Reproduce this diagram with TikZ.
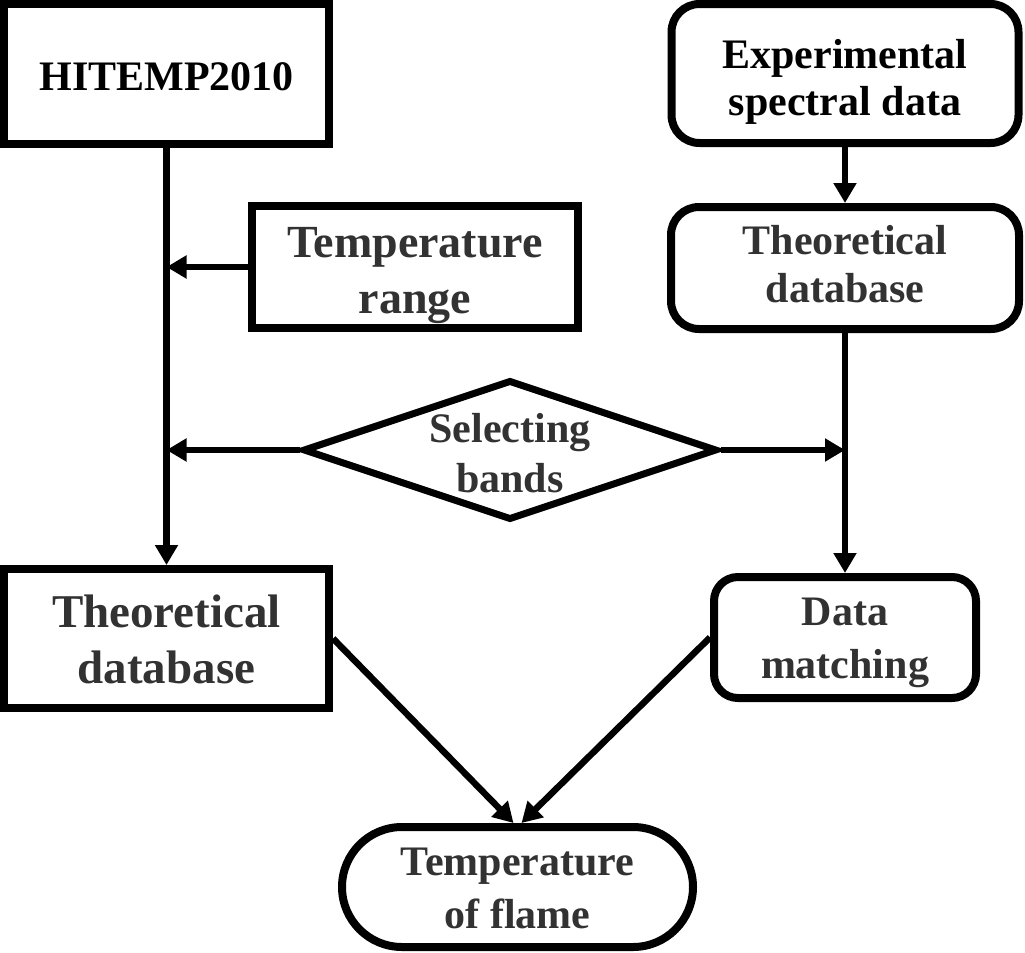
\documentclass[tikz,border=0pt]{standalone}
\usepackage{fontspec}
\setmainfont{Liberation Serif}
\usetikzlibrary{arrows.meta,shapes.geometric,shapes.misc}
\definecolor{txtgray}{RGB}{50,50,50}
% #1 = baseline of last line below centre (bp), #2 = font size, #3 = line distance, #4 = lines
\newcommand{\mtext}[4]{\fontsize{#2bp}{#3bp}\selectfont\raisebox{-#1bp}[0pt][0pt]{\begin{tabular}[b]{@{}c@{}}#4\end{tabular}}}
\tikzset{
  box/.style={draw, line width=8bp, inner sep=0pt, outer sep=4bp, font=\bfseries, text=txtgray},
  rbox/.style={box, rounded corners=28bp},
  arr/.style={line width=6.5bp, -{Triangle[length=20bp,width=22bp]}}
}
\begin{document}
\begin{tikzpicture}[x=1bp,y=-1bp]
\useasboundingbox[fill=white] (0,0) rectangle (1025,953);
% nodes
\node[box, text=black, minimum width=325bp, minimum height=140bp] (hit) at (166.5,74) {\mtext{16}{42}{50}{HITEMP2010}};
\node[box, minimum width=326bp, minimum height=122bp] (tr) at (415,267) {\mtext{46}{46}{56}{Temperature\\range}};
\node[rbox, text=black, minimum width=347bp, minimum height=139bp] (exp) at (845,73.5) {\mtext{42}{42}{47}{Experimental\\spectral data}};
\node[rbox, minimum width=348bp, minimum height=122bp] (thr) at (845,268) {\mtext{34}{42}{48}{Theoretical\\database}};
\node[draw, diamond, aspect=3, line width=7bp, inner sep=0pt, outer sep=3.5bp, minimum width=414bp, minimum height=140bp, font=\bfseries, text=txtgray] (sel) at (510,450) {\mtext{42}{42}{50}{Selecting\\bands}};
\node[box, minimum width=325bp, minimum height=139bp] (thl) at (166.5,638.5) {\mtext{44.5}{47}{56}{Theoretical\\database}};
\node[rbox, rounded corners=24bp, minimum width=262bp, minimum height=121bp] (dm) at (845,637.5) {\mtext{40.5}{42}{53}{Data\\matching}};
\node[draw, rounded rectangle, line width=8bp, inner sep=0pt, outer sep=4bp, minimum width=351bp, minimum height=120bp, font=\bfseries, text=txtgray] (flame) at (517.5,887) {\mtext{41}{42}{53}{Temperature\\of flame}};
% connectors
\draw[arr] (hit.south) -- (thl.north);
\draw[arr] (tr.west) -- (tr.west -| hit.south);
\draw[arr] (sel.west) -- (sel.west -| hit.south);
\draw[arr] (sel.east) -- (sel.east -| thr.south);
\draw[arr] (exp.south) -- (thr.north);
\draw[arr] (thr.south) -- (dm.north);
\draw[arr] (thl.east) -- ([xshift=-4bp]flame.north);
\draw[arr] (dm.west) -- ([xshift=4bp]flame.north);
\end{tikzpicture}
\end{document}
